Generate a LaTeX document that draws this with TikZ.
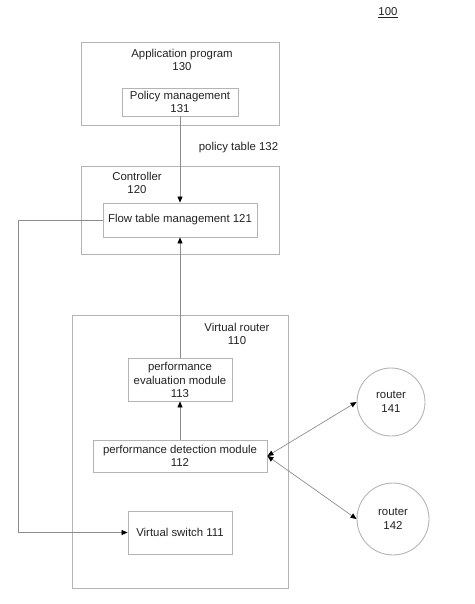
\documentclass[tikz,border=0pt]{standalone}
\usepackage{fontspec}
\setmainfont{Liberation Sans}
\usetikzlibrary{arrows.meta}
\definecolor{boxgray}{HTML}{B4B4B4}
\definecolor{linegray}{HTML}{8C8C8C}
\definecolor{txt}{HTML}{222222}
\tikzset{
  box/.style={draw=boxgray, line width=0.9pt, rectangle, inner sep=0pt},
  lbl/.style={align=center, text=txt, inner sep=0pt, font=\fontsize{11.4}{13.6}\selectfont},
  rtr/.style={draw=boxgray, line width=0.9pt, circle, inner sep=0pt, align=center, text=txt, font=\fontsize{11.4}{13.6}\selectfont},
  conn/.style={draw=linegray, line width=0.7pt},
  tip/.style={-{Triangle[length=6pt,width=5pt,color=black]}},
  tips/.style={{Triangle[length=6pt,width=5pt,color=black]}-{Triangle[length=6pt,width=5pt,color=black]}}
}
\begin{document}
\begin{tikzpicture}[x=1pt,y=-1pt]
\useasboundingbox (0,0) rectangle (474,604);
% label 100
\node[lbl] (fig) at (388,13) {\underline{100}};
% application
\node[box, minimum width=198pt, minimum height=83pt] (app) at (180,83.5) {};
\node[lbl] (apptxt) at (182,60) {Application program\\130};
\node[box, minimum width=116pt, minimum height=28pt] (pol) at (180,102) {};
\node[lbl] (poltxt) at (180,102) {Policy management\\131};
\node[lbl] (ptab) at (238.5,148) {policy table 132};
% controller
\node[box, minimum width=198pt, minimum height=88pt] (ctrl) at (180,210) {};
\node[lbl] (ctrltxt) at (137,183) {Controller\\120};
\node[box, minimum width=154pt, minimum height=34pt] (flow) at (180,220) {};
\node[lbl] (flowtxt) at (180,220) {Flow table management 121};
% virtual router
\node[box, minimum width=216pt, minimum height=273pt] (vr) at (180,451.5) {};
\node[lbl] (vrtxt) at (237,334) {Virtual router\\110};
\node[box, minimum width=104pt, minimum height=43pt] (eval) at (180,379.5) {};
\node[lbl] (evaltxt) at (180,380) {performance\\evaluation module\\113};
\node[box, minimum width=174pt, minimum height=32pt] (det) at (180,456) {};
\node[lbl] (dettxt) at (180,456) {performance detection module\\112};
\node[box, minimum width=104pt, minimum height=43pt] (sw) at (180,532.5) {};
\node[lbl] (swtxt) at (180,532.5) {Virtual switch 111};
% routers
\node[rtr, minimum size=68pt] (r141) at (391,402) {router\\141};
\node[rtr, minimum size=72pt] (r142) at (393,519) {router\\142};
\coordinate (lt) at (18,220);
\coordinate (lb) at (18,532.5);
% connectors
\draw[conn, tip] (pol.south) -- (flow.north);
\draw[conn, tip] (eval.north) -- (flow.south);
\draw[conn, tip] (det.north) -- (eval.south);
\draw[conn, tip] (flow.west) -- (lt) -- (lb) -- (sw.west);
\draw[conn, tips] (det.east) -- (r141.west);
\draw[conn, tips] (det.east) -- (r142.west);
\end{tikzpicture}
\end{document}
